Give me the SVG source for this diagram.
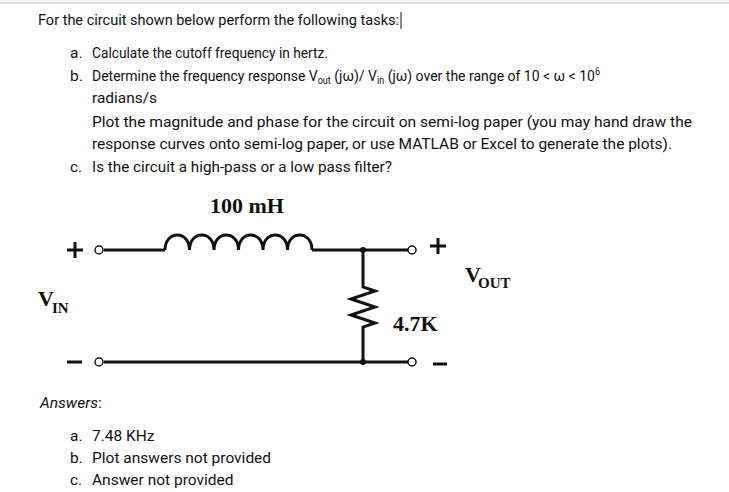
<svg xmlns="http://www.w3.org/2000/svg" width="729" height="492" viewBox="0 0 729 492">
<style>
.t{font-family:Roboto,"Liberation Sans",sans-serif;font-size:15.5px;fill:#111}
.a{font-family:Roboto,"Liberation Sans",sans-serif;font-size:15.5px;fill:#111}
.c{font-family:"Liberation Serif",serif;font-weight:bold;fill:#111}
.w{stroke:#111;stroke-width:3;fill:none}
.o{stroke:#111;stroke-width:1.5;fill:#fff}
</style>
<rect width="729" height="492" fill="#fff"/>
<line x1="0" y1="3" x2="729" y2="3" stroke="#ddd" stroke-width="2"/>
<g id="text">
<text class="t" x="38" y="25" textLength="361" lengthAdjust="spacingAndGlyphs">For the circuit shown below perform the following tasks:</text>
<line x1="401" y1="12" x2="401" y2="29" stroke="#111"/>
<text class="t" x="70" y="58">a.</text><text class="t" x="92" y="58" textLength="236" lengthAdjust="spacingAndGlyphs">Calculate the cutoff frequency in hertz.</text>
<text class="t" x="70" y="81">b.</text><text class="t" x="92" y="81" textLength="508" lengthAdjust="spacingAndGlyphs">Determine the frequency response V<tspan font-size="10" dy="3">out</tspan><tspan dy="-3"> (jω)/ V</tspan><tspan font-size="10" dy="3">in</tspan><tspan dy="-3"> (jω) over the range of 10 &lt; ω &lt; 10</tspan><tspan font-size="10" dy="-6">6</tspan></text>
<text class="t" x="92" y="103" textLength="65" lengthAdjust="spacingAndGlyphs">radians/s</text>
<text class="t" x="92" y="127" textLength="600" lengthAdjust="spacingAndGlyphs">Plot the magnitude and phase for the circuit on semi-log paper (you may hand draw the</text>
<text class="t" x="92" y="149" textLength="580" lengthAdjust="spacingAndGlyphs">response curves onto semi-log paper, or use MATLAB or Excel to generate the plots).</text>
<text class="t" x="70" y="172">c.</text><text class="t" x="92" y="172" textLength="300" lengthAdjust="spacingAndGlyphs">Is the circuit a high-pass or a low pass filter?</text>
<text class="a" x="40" y="408" font-style="italic">Answers<tspan font-style="normal">:</tspan></text>
<text class="a" x="70" y="441">a.</text><text class="a" x="92" y="441">7.48 KHz</text>
<text class="a" x="70" y="463">b.</text><text class="a" x="92" y="463">Plot answers not provided</text>
<text class="a" x="70" y="485">c.</text><text class="a" x="92" y="485">Answer not provided</text>
</g>
<g id="connectors">
<path class="w" d="M104 250H165M312 250H408M104 362H408M363 250V287l12 4-24 8 24 8-24 8 24 8-12 4V362"/>
</g>
<g id="inductor">
<path class="w" d="M165 250c0-20 24.5-20 24.5 0c0-20 24.5-20 24.5 0c0-20 24.5-20 24.5 0c0-20 24.5-20 24.5 0c0-20 24.5-20 24.5 0c0-20 24.5-20 24.5 0"/>
<text class="c" x="247" y="213" font-size="22" text-anchor="middle">100 mH</text>
</g>
<g id="nodes">
<circle cx="363" cy="250" r="3" fill="#111"/>
<circle cx="363" cy="362" r="3" fill="#111"/>
<circle class="o" cx="99" cy="250" r="4"/>
<circle class="o" cx="99" cy="362" r="4"/>
<circle class="o" cx="412" cy="250" r="4"/>
<circle class="o" cx="412" cy="362" r="4"/>
<path class="w" stroke-width="3.5" d="M67 250h16M75 242v16M430 246h16M438 238v16M67 362h15M433 364h14"/>
<text class="c" x="393" y="331" font-size="22">4.7K</text>
<text class="c" x="38" y="306" font-size="22">V</text><text class="c" x="52" y="313" font-size="15">IN</text>
<text class="c" x="465" y="282" font-size="22">V</text><text class="c" x="478" y="288" font-size="15">OUT</text>
</g>
</svg>
